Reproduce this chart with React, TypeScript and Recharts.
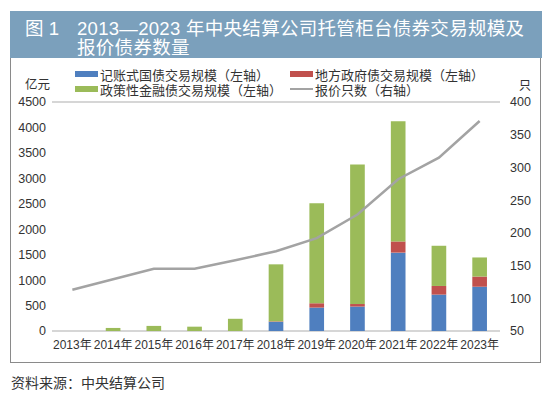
import React from "react";
import { ComposedChart, Bar, Line, XAxis, YAxis, CartesianGrid } from "recharts";

const years = ["2013年", "2014年", "2015年", "2016年", "2017年", "2018年", "2019年", "2020年", "2021年", "2022年", "2023年"];
const treasury = [0, 0, 0, 0, 0, 180, 460, 480, 1540, 715, 870];
const local = [0, 0, 0, 0, 0, 10, 85, 50, 220, 170, 200];
const policy = [0, 60, 100, 85, 240, 1120, 1965, 2740, 2360, 790, 375];
const quotes = [113, 129, 145, 145, 158, 172, 192, 228, 282, 315, 371];

const leftTicks = [0, 500, 1000, 1500, 2000, 2500, 3000, 3500, 4000, 4500];
const rightTicks = [50, 100, 150, 200, 250, 300, 350, 400];

const data = years.map((y, i) => ({
  year: y,
  treasury: treasury[i],
  local: local[i],
  policy: policy[i],
  quotes: quotes[i],
}));

const FONT = '"Liberation Sans", "Noto Sans CJK SC", sans-serif';
const BLUE = "#4F7FBF";
const RED = "#C0504D";
const GREEN = "#9BBB59";
const GRAY = "#A3A3A3";

const legendItems = [
  { label: "记账式国债交易规模（左轴）", color: BLUE, type: "rect", x: 75, y: 74 },
  { label: "地方政府债交易规模（左轴）", color: RED, type: "rect", x: 290, y: 74 },
  { label: "政策性金融债交易规模（左轴）", color: GREEN, type: "rect", x: 75, y: 89 },
  { label: "报价只数（右轴）", color: GRAY, type: "line", x: 290, y: 89 },
];

const tickStyle = { fontSize: 12.5, fill: "#333", fontFamily: FONT };
const xTickStyle = { fontSize: 12, fill: "#333", fontFamily: FONT };

export default function App() {
  return (
    <div style={{ position: "absolute", left: 0, top: 0, width: 550, height: 396, background: "#fff", fontFamily: FONT }}>
      <div
        style={{
          position: "absolute",
          left: 10,
          top: 11,
          width: 532,
          height: 47,
          background: "#7BA0BC",
          color: "#fff",
          fontSize: 18.5,
          lineHeight: "19px",
        }}
      >
        <div style={{ position: "absolute", left: 15, top: 8 }}>图 1</div>
        <div style={{ position: "absolute", left: 67, top: 8, whiteSpace: "nowrap", letterSpacing: 0.3 }}>
          2013—2023 年中央结算公司托管柜台债券交易规模及
        </div>
        <div style={{ position: "absolute", left: 67, top: 27, letterSpacing: 0.3 }}>报价债券数量</div>
      </div>
      <div
        style={{
          position: "absolute",
          left: 10,
          top: 58,
          width: 531,
          height: 305,
          border: "1px solid #8A8A8A",
          borderTop: "none",
          boxSizing: "border-box",
        }}
      />
      {legendItems.map((it) => (
        <div
          key={it.label}
          style={{
            position: "absolute",
            left: it.x,
            top: it.y - 8,
            height: 16,
            display: "flex",
            alignItems: "center",
            fontSize: 13,
            color: "#333",
            whiteSpace: "nowrap",
          }}
        >
          <div style={{ width: 23, height: it.type === "rect" ? 6 : 2.5, background: it.color, marginRight: 2 }} />
          <span>{it.label}</span>
        </div>
      ))}
      <div style={{ position: "absolute", left: 25, top: 78, fontSize: 12.5, lineHeight: "14px", color: "#333" }}>亿元</div>
      <div style={{ position: "absolute", left: 519, top: 80, fontSize: 12, lineHeight: "13px", color: "#333" }}>只</div>
      <div style={{ position: "absolute", left: 10, top: 58 }}>
        <ComposedChart
          width={532}
          height={305}
          data={data}
          margin={{ top: 44, right: 0, bottom: 2, left: 0 }}
          barCategoryGap="68%"
        >
          <CartesianGrid vertical={false} stroke="#C8C8C8" strokeWidth={1.5} />
          <XAxis
            dataKey="year"
            height={30}
            axisLine={false}
            tickLine={false}
            tickSize={0}
            tickMargin={9}
            interval={0}
            tick={xTickStyle}
          />
          <YAxis
            yAxisId="left"
            domain={[0, 4500]}
            ticks={leftTicks}
            interval={0}
            width={42}
            axisLine={false}
            tickLine={false}
            tickSize={0}
            tickMargin={6}
            tick={tickStyle}
          />
          <YAxis
            yAxisId="right"
            orientation="right"
            domain={[50, 400]}
            ticks={rightTicks}
            interval={0}
            width={42}
            axisLine={false}
            tickLine={false}
            tickSize={0}
            tickMargin={10}
            tick={tickStyle}
          />
          <Bar yAxisId="left" dataKey="treasury" stackId="a" fill={BLUE} isAnimationActive={false} />
          <Bar yAxisId="left" dataKey="local" stackId="a" fill={RED} isAnimationActive={false} />
          <Bar yAxisId="left" dataKey="policy" stackId="a" fill={GREEN} isAnimationActive={false} />
          <Line
            yAxisId="right"
            dataKey="quotes"
            stroke={GRAY}
            strokeWidth={2.5}
            dot={false}
            type="linear"
            isAnimationActive={false}
          />
        </ComposedChart>
      </div>
      <div style={{ position: "absolute", left: 11, top: 372, fontSize: 14, color: "#333" }}>资料来源：中央结算公司</div>
    </div>
  );
}
